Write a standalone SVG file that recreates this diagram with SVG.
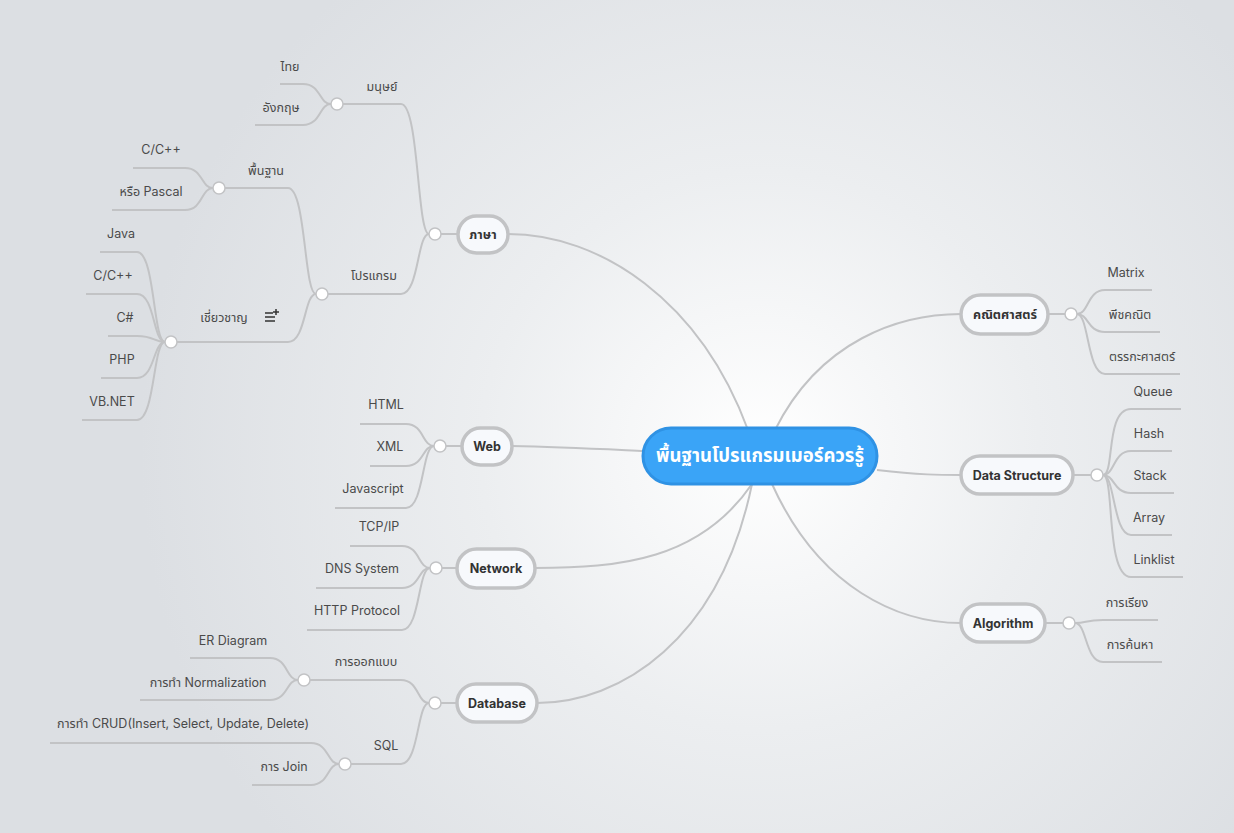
<svg xmlns="http://www.w3.org/2000/svg" width="1234" height="833" viewBox="0 0 1234 833">
<defs>
<radialGradient id="bg" cx="760" cy="450" r="620" gradientUnits="userSpaceOnUse">
<stop offset="0" stop-color="#ffffff"/><stop offset="0.45" stop-color="#eceef0"/><stop offset="1" stop-color="#dcdfe3"/>
</radialGradient>
<style>
.c{fill:none;stroke:#c2c3c5;stroke-width:2}
.k{fill:#fff;stroke:#c2c3c5;stroke-width:1.5}
.n rect{fill:#f7f9fc;stroke:#c2c3c5;stroke-width:3.5}
.n text{font-family:Inter,"Noto Sans","Noto Sans Thai",sans-serif;font-size:12.5px;font-weight:bold;fill:#333;text-anchor:middle}
.l{font-family:Inter,"Noto Sans","Noto Sans Thai",sans-serif;font-size:12.5px;fill:#4a4a4a;text-anchor:middle}
</style>
</defs>
<rect width="1234" height="833" fill="url(#bg)"/>
<g id="connectors">
<path class="c" d="M748,430 C700,300 600,234 508,234"/>
<path class="c" d="M645,451 C600,449 560,447 512,446"/>
<path class="c" d="M752,484 C700,560 620,568 535,568"/>
<path class="c" d="M752,484 C720,640 620,703 537,703"/>
<path class="c" d="M775,430 C820,340 900,314 961,314"/>
<path class="c" d="M877,470 C920,475 940,475 961,475"/>
<path class="c" d="M772,484 C820,590 900,623 961,623"/>
<path class="c" d="M458,234 L441,234"/>
<path class="c" d="M429,234 C417,234 419,104 401,104 L343,104"/>
<path class="c" d="M429,234 C417,234 419,294 401,294 L328,294"/>
<path class="c" d="M331,104 C319,104 321,84 303,84 L280,84"/>
<path class="c" d="M331,104 C319,104 321,125 303,125 L255,125"/>
<path class="c" d="M316,294 C304,294 306,188 288,188 L225,188"/>
<path class="c" d="M316,294 C304,294 306,342 288,342 L177,342"/>
<path class="c" d="M213,188 C201,188 203,168 185,168 L133,168"/>
<path class="c" d="M213,188 C201,188 203,210 185,210 L112,210"/>
<path class="c" d="M165,342 C153,342 155,252 137,252 L100,252"/>
<path class="c" d="M165,342 C153,342 155,294 137,294 L86,294"/>
<path class="c" d="M165,342 C153,342 155,336 137,336 L108,336"/>
<path class="c" d="M165,342 C153,342 155,378 137,378 L101,378"/>
<path class="c" d="M165,342 C153,342 155,420 137,420 L82,420"/>
<path class="c" d="M462,446 L446,446"/>
<path class="c" d="M434,446 C422,446 424,424 406,424 L360,424"/>
<path class="c" d="M434,446 C422,446 424,466 406,466 L370,466"/>
<path class="c" d="M434,446 C422,446 424,508 406,508 L335,508"/>
<path class="c" d="M457,568 L442,568"/>
<path class="c" d="M430,568 C418,568 420,546 402,546 L350,546"/>
<path class="c" d="M430,568 C418,568 420,588 402,588 L316,588"/>
<path class="c" d="M430,568 C418,568 420,630 402,630 L307,630"/>
<path class="c" d="M457,703 L441,703"/>
<path class="c" d="M429,703 C417,703 419,680 401,680 L310,680"/>
<path class="c" d="M429,703 C417,703 419,764 401,764 L351,764"/>
<path class="c" d="M298,680 C286,680 288,658 270,658 L190,658"/>
<path class="c" d="M298,680 C286,680 288,700 270,700 L140,700"/>
<path class="c" d="M339,764 C327,764 329,743 311,743 L50,743"/>
<path class="c" d="M339,764 C327,764 329,785 311,785 L252,785"/>
<path class="c" d="M1048,314 L1065,314"/>
<path class="c" d="M1077,314 C1089,314 1087,290 1105,290 L1152,290"/>
<path class="c" d="M1077,314 C1089,314 1087,332 1105,332 L1160,332"/>
<path class="c" d="M1077,314 C1089,314 1087,374 1105,374 L1180,374"/>
<path class="c" d="M1073,475 L1091,475"/>
<path class="c" d="M1103,475 C1115,475 1105,409 1131,409 L1181,409"/>
<path class="c" d="M1103,475 C1115,475 1113,451 1131,451 L1172,451"/>
<path class="c" d="M1103,475 C1115,475 1113,493 1131,493 L1174,493"/>
<path class="c" d="M1103,475 C1115,475 1113,535 1131,535 L1172,535"/>
<path class="c" d="M1103,475 C1115,475 1105,577 1131,577 L1183,577"/>
<path class="c" d="M1045,623 L1063,623"/>
<path class="c" d="M1075,623 C1087,623 1085,620 1103,620 L1158,620"/>
<path class="c" d="M1075,623 C1087,623 1085,662 1103,662 L1162,662"/>
</g>
<g id="knobs">
<circle class="k" cx="435" cy="234" r="6"/><circle class="k" cx="337" cy="104" r="6"/><circle class="k" cx="322" cy="294" r="6"/>
<circle class="k" cx="219" cy="188" r="6"/><circle class="k" cx="171" cy="342" r="6"/><circle class="k" cx="440" cy="446" r="6"/>
<circle class="k" cx="436" cy="568" r="6"/><circle class="k" cx="435" cy="703" r="6"/><circle class="k" cx="304" cy="680" r="6"/>
<circle class="k" cx="345" cy="764" r="6"/><circle class="k" cx="1071" cy="314" r="6"/><circle class="k" cx="1097" cy="475" r="6"/>
<circle class="k" cx="1069" cy="623" r="6"/>
</g>
<g id="root">
<rect x="643" y="428" width="234" height="56" rx="28" fill="#3aa4f7" stroke="#2f92e4" stroke-width="3"/>
<text x="760" y="462" font-family="'Noto Sans','Noto Sans Thai',sans-serif" font-size="18.5" font-weight="bold" fill="#fff" text-anchor="middle">พื้นฐานโปรแกรมเมอร์ควรรู้</text>
</g>
<g id="n-lang" class="n"><rect x="458" y="216" width="50" height="37" rx="18.5"/><text x="483" y="239">ภาษา</text></g>
<g id="n-web" class="n"><rect x="462" y="428" width="50" height="37" rx="18.5"/><text x="487" y="451">Web</text></g>
<g id="n-net" class="n"><rect x="457" y="549" width="78" height="39" rx="19.5"/><text x="496" y="573">Network</text></g>
<g id="n-db" class="n"><rect x="457" y="684" width="80" height="38" rx="19"/><text x="497" y="708">Database</text></g>
<g id="n-math" class="n"><rect x="961" y="295" width="87" height="39" rx="19.5"/><text x="1005" y="319">คณิตศาสตร์</text></g>
<g id="n-ds" class="n"><rect x="961" y="456" width="112" height="38" rx="19"/><text x="1017" y="480">Data Structure</text></g>
<g id="n-algo" class="n"><rect x="961" y="604" width="84" height="38" rx="19"/><text x="1003" y="628">Algorithm</text></g>
<g id="labels">
<text class="l" x="382" y="91">มนุษย์</text>
<text class="l" x="290" y="71">ไทย</text>
<text class="l" x="281" y="112">อังกฤษ</text>
<text class="l" x="374" y="280">โปรแกรม</text>
<text class="l" x="266" y="175">พื้นฐาน</text>
<text class="l" x="161" y="154">C/C++</text>
<text class="l" x="151" y="196">หรือ Pascal</text>
<text class="l" x="224" y="322">เชี่ยวชาญ</text>
<text class="l" x="121" y="238">Java</text>
<text class="l" x="113" y="280">C/C++</text>
<text class="l" x="125" y="322">C#</text>
<text class="l" x="122" y="364">PHP</text>
<text class="l" x="112" y="406">VB.NET</text>
<text class="l" x="386" y="409">HTML</text>
<text class="l" x="390" y="451">XML</text>
<text class="l" x="373" y="493">Javascript</text>
<text class="l" x="379" y="531">TCP/IP</text>
<text class="l" x="362" y="573">DNS System</text>
<text class="l" x="357" y="615">HTTP Protocol</text>
<text class="l" x="366" y="666">การออกแบบ</text>
<text class="l" x="233" y="645">ER Diagram</text>
<text class="l" x="208" y="687">การทำ Normalization</text>
<text class="l" x="386" y="750">SQL</text>
<text class="l" x="183" y="728">การทำ CRUD(Insert, Select, Update, Delete)</text>
<text class="l" x="284" y="771">การ Join</text>
<text class="l" x="1126" y="277">Matrix</text>
<text class="l" x="1130" y="319">พีชคณิต</text>
<text class="l" x="1142" y="361">ตรรกะศาสตร์</text>
<text class="l" x="1153" y="396">Queue</text>
<text class="l" x="1149" y="438">Hash</text>
<text class="l" x="1150" y="480">Stack</text>
<text class="l" x="1149" y="522">Array</text>
<text class="l" x="1154" y="564">Linklist</text>
<text class="l" x="1127" y="607">การเรียง</text>
<text class="l" x="1130" y="649">การค้นหา</text>
</g>
<g id="note-icon" stroke="#333" stroke-width="1.5">
<path d="M265,313 H273 M265,317 H275 M265,321 H275 M276,309 V315 M273,312 H279"/>
</g>
</svg>
